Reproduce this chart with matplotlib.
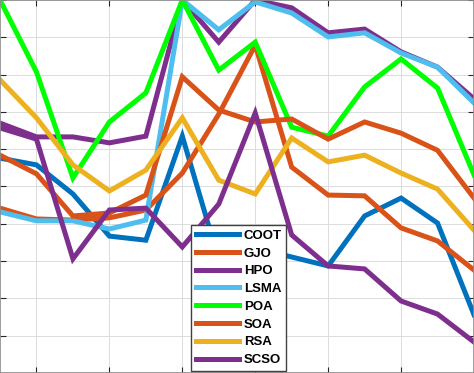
import matplotlib
matplotlib.use("Agg")
import matplotlib.pyplot as plt
import numpy as np

# iteration index along x (plot is cropped, so no tick labels show)
iters = list(range(1, 15))

# values (arbitrary units, 0 = bottom edge, 10 = top edge)
coot = [5.76, 5.58, 4.80, 3.67, 3.56, 6.35, 3.03, 3.35, 3.11, 2.87, 4.21, 4.69, 4.02, 1.56]
gjo = [4.42, 4.13, 4.10, 4.16, 4.37, 5.36, 6.94, 8.79, 5.52, 4.77, 4.75, 3.89, 3.54, 2.76]
hpo = [6.70, 6.33, 6.33, 6.17, 6.35, 10.0, 8.87, 10.0, 9.79, 9.12, 9.22, 8.61, 8.20, 7.35]
lsma = [4.32, 4.08, 4.08, 3.86, 4.10, 10.0, 9.20, 9.95, 9.65, 9.01, 9.12, 8.58, 8.20, 7.24]
poa = [10.0, 8.07, 5.23, 6.73, 7.51, 10.0, 8.12, 8.87, 6.59, 6.35, 7.67, 8.42, 7.64, 5.31]
soa = [5.84, 5.34, 4.21, 4.29, 4.77, 7.94, 7.05, 6.73, 6.81, 6.27, 6.73, 6.43, 5.97, 4.69]
rsa = [7.86, 6.84, 5.58, 4.88, 5.44, 6.84, 5.17, 4.80, 6.30, 5.66, 5.84, 5.36, 4.93, 3.83]
scso = [6.57, 6.27, 3.06, 4.37, 4.42, 3.38, 4.53, 6.97, 3.70, 2.87, 2.79, 1.93, 1.58, 0.83]

names = ["COOT", "GJO", "HPO", "LSMA", "POA", "SOA", "RSA", "SCSO"]
series = [coot, gjo, hpo, lsma, poa, soa, rsa, scso]
colors = ["#0072BD", "#D95319", "#7E2F8E", "#4DBEEE", "#00FF00", "#D95319", "#EDB120", "#7E2F8E"]

fig = plt.figure(figsize=(4.74, 3.73), dpi=100)
ax = fig.add_axes([0, 0, 1, 1])

for name, vals, c in zip(names, series, colors):
    ax.plot(iters, vals, color=c, linewidth=3.6, label=name, solid_joinstyle="miter")

ax.set_xlim(1, 14)
ax.set_ylim(0, 10)
ax.set_xticks(np.arange(2, 15, 2))
ax.set_yticks(np.arange(0, 11, 1))
ax.set_xticklabels([])
ax.set_yticklabels([])
ax.tick_params(direction="in", length=4, width=0.8, color="#262626",
               top=True, right=True, bottom=True, left=True)
ax.grid(True, color="#dcdcdc", linewidth=0.7)
ax.set_axisbelow(True)
for side, sp in ax.spines.items():
    sp.set_color("#8c8c8c")
    sp.set_linewidth(1.2)

leg = ax.legend(loc="upper left", bbox_to_anchor=(0.403, 0.397), ncol=1,
                prop={"family": "Liberation Sans", "weight": "bold", "size": 9.5},
                handlelength=3.3, handletextpad=0.35, labelspacing=0.42,
                borderpad=0.35, borderaxespad=0, fancybox=False, framealpha=1,
                edgecolor="#404040")
leg.get_frame().set_linewidth(1.0)
for line in leg.get_lines():
    line.set_linewidth(3.6)

fig.savefig("out.png", dpi=100)
